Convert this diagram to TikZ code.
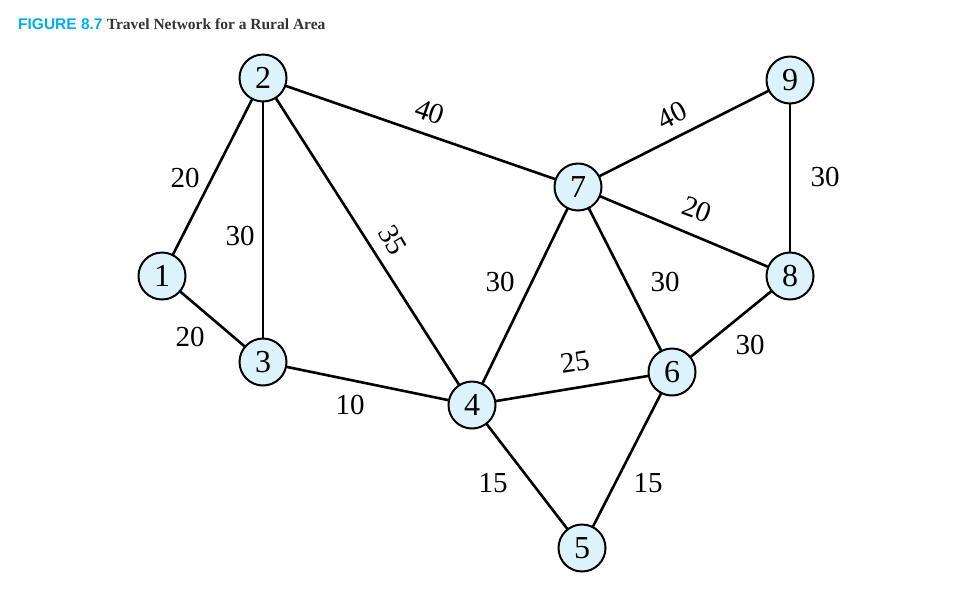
\documentclass[tikz,border=0pt]{standalone}
\usepackage{fontspec}
\setmainfont{Liberation Serif}
\newfontfamily\titlesans{Liberation Sans}
\definecolor{figblue}{HTML}{00AEEF}
\definecolor{nodefill}{HTML}{DDF3FB}
\begin{document}
\begin{tikzpicture}[x=1pt,y=-1pt,
  vert/.style={circle,draw,line width=2pt,fill=nodefill,minimum size=47pt,inner sep=0pt,font=\fontsize{32}{32}\selectfont},
  wlab/.style={font=\fontsize{29}{29}\selectfont,inner sep=0pt},
  edge/.style={line width=2.6pt}]
\useasboundingbox (0,0) rectangle (979,603);
\node[anchor=west,inner sep=0pt] (title) at (18,24) {\fontsize{15.5}{15.5}\selectfont\titlesans\bfseries\color{figblue}FIGURE 8.7 \rmfamily\bfseries\color{black!80}Travel Network for a Rural Area};
\coordinate (c1) at (162,276);
\coordinate (c2) at (263,78);
\coordinate (c3) at (263,362);
\coordinate (c4) at (472,405);
\coordinate (c5) at (582,548);
\coordinate (c6) at (672,372);
\coordinate (c7) at (578,187);
\coordinate (c8) at (790,276);
\coordinate (c9) at (790,80);
\draw[edge] (c1) -- (c2);
\draw[edge] (c1) -- (c3);
\draw[edge] (c2) -- (c3);
\draw[edge] (c2) -- (c4);
\draw[edge] (c2) -- (c7);
\draw[edge] (c3) -- (c4);
\draw[edge] (c4) -- (c7);
\draw[edge] (c4) -- (c6);
\draw[edge] (c4) -- (c5);
\draw[edge] (c5) -- (c6);
\draw[edge] (c6) -- (c7);
\draw[edge] (c6) -- (c8);
\draw[edge] (c7) -- (c8);
\draw[edge] (c7) -- (c9);
\draw[edge] (c8) -- (c9);
\node[vert] (n1) at (c1) {1};
\node[vert] (n2) at (c2) {2};
\node[vert] (n3) at (c3) {3};
\node[vert] (n4) at (c4) {4};
\node[vert] (n5) at (c5) {5};
\node[vert] (n6) at (c6) {6};
\node[vert] (n7) at (c7) {7};
\node[vert] (n8) at (c8) {8};
\node[vert] (n9) at (c9) {9};
\node[wlab] (l12) at (185,178) {20};
\node[wlab] (l23) at (240,236) {30};
\node[wlab] (l13) at (190,337) {20};
\node[wlab,rotate=-60] (l24) at (393,240) {35};
\node[wlab,rotate=-19] (l27) at (430,112) {40};
\node[wlab] (l34) at (350,405) {10};
\node[wlab] (l47) at (500,282) {30};
\node[wlab,rotate=9] (l46) at (575,362) {25};
\node[wlab] (l67) at (665,282) {30};
\node[wlab,rotate=27] (l79) at (672,115) {40};
\node[wlab,rotate=-20] (l78) at (697,210) {20};
\node[wlab] (l89) at (825,177) {30};
\node[wlab] (l68) at (750,345) {30};
\node[wlab] (l45) at (493,483) {15};
\node[wlab] (l56) at (648,483) {15};
\end{tikzpicture}
\end{document}
